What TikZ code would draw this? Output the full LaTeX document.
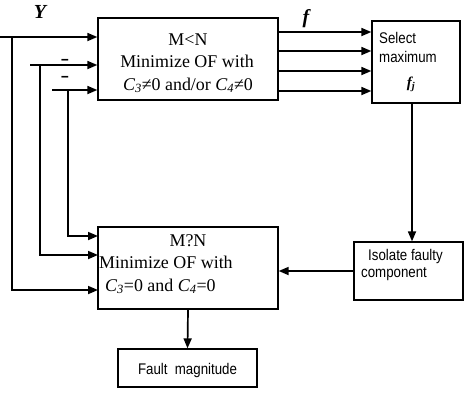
\documentclass[tikz,border=0pt]{standalone}
\usepackage{fontspec}
\setmainfont{Liberation Serif}
\setsansfont{Liberation Sans}[FakeStretch=0.86]
\usetikzlibrary{arrows.meta}
\begin{document}
\begin{tikzpicture}[x=1bp,y=-1bp,
  box/.style={draw,line width=1.3bp,minimum width=#1,inner sep=0pt},
  ln/.style={line width=1.7bp},
  arr/.style={ln,-{Triangle[length=10bp,width=8bp]}},
  serif/.style={font=\fontsize{18}{20}\selectfont,inner sep=0pt},
  sans/.style={font=\sffamily\fontsize{15.5}{17}\selectfont,inner sep=0pt},
  minus/.style={font=\sffamily\bfseries\fontsize{16}{17}\selectfont,inner sep=0pt,anchor=center},
  big/.style={font=\fontsize{20}{22}\selectfont\bfseries\itshape,inner sep=0pt,anchor=base},
]
\useasboundingbox (0,0) rectangle (474,413);
% boxes
\node[box=180bp,minimum height=82bp] (top) at (188,59) {};
\node[box=88bp,minimum height=82bp] (sel) at (416,62) {};
\node[box=180bp,minimum height=82bp] (bot) at (188,268) {};
\node[box=109bp,minimum height=58bp] (iso) at (408.5,271) {};
\node[box=139bp,minimum height=38bp] (fm) at (187.5,368) {};
% texts
\node[serif,anchor=base] (t1) at (188,45) {M<N};
\node[serif,anchor=base] (t2) at (187,67) {Minimize OF with};
\node[serif,anchor=base] (t3) at (188,90) {\textit{C\textsubscript{3}}≠0 and/or \textit{C\textsubscript{4}}≠0};
\node[serif,anchor=base] (u1) at (188,246) {M?N};
\node[serif,anchor=base west] (u2) at (99,268) {Minimize OF with};
\node[serif,anchor=base west] (u3) at (105,291) {\textit{C\textsubscript{3}}=0 and \textit{C\textsubscript{4}}=0};
\node[sans,anchor=base west] (s1) at (379,43) {Select};
\node[sans,anchor=base west] (s2) at (379,62) {maximum};
\node[font=\fontsize{15}{16}\selectfont\bfseries\itshape,inner sep=0pt,anchor=base] (s3) at (411,87) {f\textsubscript{j}};
\node[sans,anchor=base west] (i1) at (368,260) {Isolate faulty};
\node[sans,anchor=base west] (i2) at (361,277) {component};
\node[sans,anchor=base] (f1) at (187.5,374) {Fault\ \ magnitude};
\node[big] (Y) at (40,18) {Y};
\node[big] (F) at (306,23) {f};
\node[minus] (m1) at (65,62) {–};
\node[minus] (m2) at (65,79) {–};
% input coordinates
\coordinate (a1) at (0,37);
\coordinate (a2) at (30,65);
\coordinate (a3) at (52,90);
\coordinate (v1) at (12,37);
\coordinate (v2) at (40,65);
\coordinate (v3) at (68,90);
\coordinate (e1) at (98,290);
\coordinate (e2) at (98,255);
\coordinate (e3) at (98,236);
\draw[arr] (a1) -- (top.west |- a1);
\draw[arr] (a2) -- (top.west |- a2);
\draw[arr] (a3) -- (top.west |- a3);
\draw[arr] (v1) |- (e1);
\draw[arr] (v2) |- (e2);
\draw[arr] (v3) |- (e3);
% outputs f
\foreach \yy in {32,51,71,91}{
  \draw[arr] (top.east |- 0,\yy) -- (sel.west |- 0,\yy);
}
% right column
\coordinate (d1) at (412,103);
\draw[arr] (d1) -- (d1 |- iso.north);
\draw[arr] (iso.west) -- (bot.east |- iso.west);
\draw[arr] (bot.south) -- (fm.north);
\end{tikzpicture}
\end{document}
